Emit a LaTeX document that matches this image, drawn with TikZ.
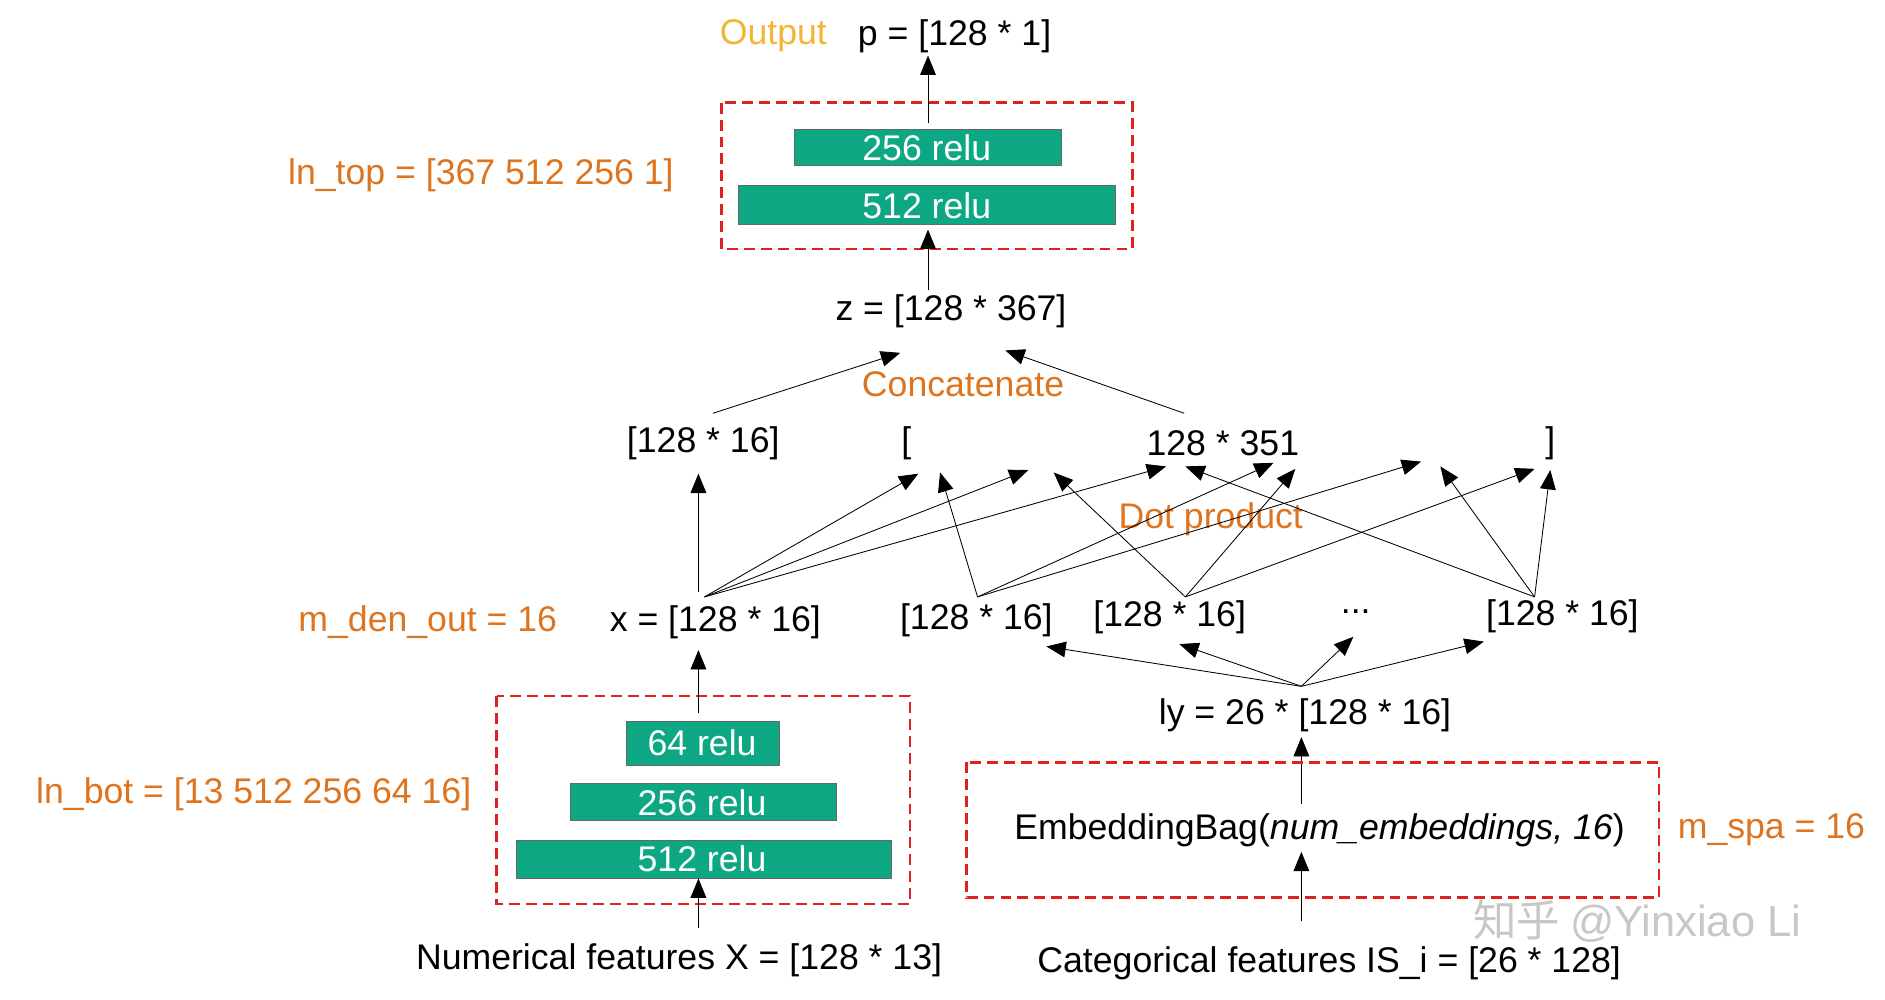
\documentclass[tikz,border=0pt]{standalone}
\usepackage{fontspec}
\setmainfont{Liberation Sans}
\usetikzlibrary{arrows.meta}
\definecolor{org}{HTML}{DD7420}
\definecolor{yel}{HTML}{F2B535}
\definecolor{grn}{HTML}{0DA784}
\definecolor{rd}{HTML}{DD2222}
\begin{document}
\begin{tikzpicture}[x=1pt,y=-1pt,
  every node/.style={font=\fontsize{29.5}{31}\selectfont, inner sep=0pt},
  lbl/.style={text=org},
  box/.style={draw=rd, line width=2.2pt, dash pattern=on 9pt off 5pt},
  gb/.style={fill=grn, draw=black!60, line width=0.5pt},
  ar/.style={-{Triangle[length=16pt,width=13pt]}, line width=0.7pt}]
\useasboundingbox (0,0) rectangle (1560,827);
% top
\node[text=yel] (out) at (640,30) {Output};
\node (p) at (790,30) {p = [128 * 1]};
\draw[box] (597,85) rectangle (937,206);
\draw[gb] (657,107) rectangle (878,137); \node[white] (r256t) at (767,122) {256 relu};
\draw[gb] (611,153) rectangle (923,186); \node[white] (r512t) at (767,170) {512 relu};
\node[lbl] (lntop) at (398,145) {ln\_top = [367 512 256 1]};
\coordinate (t1) at (768,102); \coordinate (t2) at (768,46);
\draw[ar] (t1) -- (t2);
\node (z) at (787,258) {z = [128 * 367]};
\coordinate (z1) at (768,240); \coordinate (z2) at (768,190);
\draw[ar] (z1) -- (z2);
\node[lbl] (cat) at (797,318) {Concatenate};
\coordinate (c1) at (590,342); \coordinate (c1t) at (745,292);
\coordinate (c2) at (980,342); \coordinate (c2t) at (832,290);
\draw[ar] (c1) -- (c1t); \draw[ar] (c2) -- (c2t);
% middle row
\node (d16) at (582,367) {[128 * 16]};
\node (lb) at (750,367) {[};
\node (s351) at (1012,367) {128 * 351};
\node (rb) at (1283,367) {]};
\node[lbl] (dot) at (1002,430) {Dot product};
% row
\node[lbl] (mden) at (354,515) {m\_den\_out = 16};
\node (x) at (592,515) {x = [128 * 16]};
\node (e1) at (808,513) {[128 * 16]};
\node (e2) at (968,511) {[128 * 16]};
\node (e3) at (1122,506) {...};
\node (e4) at (1293,510) {[128 * 16]};
\coordinate (sx) at (583,494); \coordinate (s1) at (809,494);
\coordinate (s2) at (981,494); \coordinate (s4) at (1270,494);
\coordinate (xv) at (578,490); \coordinate (xvt) at (578,392);
\draw[ar] (xv) -- (xvt);
\coordinate (a1) at (760,392); \coordinate (a2) at (778,391);
\coordinate (a3) at (851,389); \coordinate (a4) at (872,391);
\coordinate (a5) at (965,386); \coordinate (a6) at (981,386);
\coordinate (a7) at (1054,383); \coordinate (a8) at (1072,388);
\coordinate (a9) at (1176,382); \coordinate (a10) at (1192,386);
\coordinate (a11) at (1270,388); \coordinate (a12) at (1283,389);
\draw[ar] (sx) -- (a1); \draw[ar] (s1) -- (a2);
\draw[ar] (sx) -- (a3); \draw[ar] (s2) -- (a4);
\draw[ar] (sx) -- (a5); \draw[ar] (s4) -- (a6);
\draw[ar] (s1) -- (a7); \draw[ar] (s2) -- (a8);
\draw[ar] (s1) -- (a9); \draw[ar] (s4) -- (a10);
\draw[ar] (s2) -- (a11); \draw[ar] (s4) -- (a12);
% ly
\node (ly) at (1080,592) {ly = 26 * [128 * 16]};
\coordinate (ls) at (1077,568);
\coordinate (b1) at (866,535); \coordinate (b2) at (976,533);
\coordinate (b3) at (1120,527); \coordinate (b4) at (1228,531);
\draw[ar] (ls) -- (b1); \draw[ar] (ls) -- (b2);
\draw[ar] (ls) -- (b3); \draw[ar] (ls) -- (b4);
\coordinate (l1) at (1077,665); \coordinate (l1t) at (1077,610);
\draw[ar] (l1) -- (l1t);
% bottom left
\draw[box] (411,576) rectangle (753,748);
\draw[gb] (518,597) rectangle (645,633); \node[white] (r64) at (581,615) {64 relu};
\draw[gb] (472,648) rectangle (692,679); \node[white] (r256b) at (581,664) {256 relu};
\draw[gb] (427,695) rectangle (738,727); \node[white] (r512b) at (581,711) {512 relu};
\node[lbl] (lnbot) at (210,657) {ln\_bot = [13 512 256 64 16]};
\coordinate (n1) at (578,768); \coordinate (n1t) at (578,727);
\draw[ar] (n1) -- (n1t);
\coordinate (n2) at (578,590); \coordinate (n2t) at (578,538);
\draw[ar] (n2) -- (n2t);
% bottom right
\draw[box] (800,631) rectangle (1373,743);
\node (emb) at (1092,687) {EmbeddingBag(\textit{num\_embeddings, 16})};
\node[lbl] (mspa) at (1466,687) {m\_spa = 16};
\coordinate (k1) at (1077,762); \coordinate (k1t) at (1077,705);
\draw[ar] (k1) -- (k1t);
\node[text=black!22, font=\fontsize{36}{38}\selectfont] (wm) at (1355,762) {\fontspec{Noto Sans CJK SC}知乎\ \fontspec{Liberation Sans}@Yinxiao Li};
\node (num) at (562,795) {Numerical features X = [128 * 13]};
\node (catf) at (1100,797) {Categorical features IS\_i = [26 * 128]};
\end{tikzpicture}
\end{document}
